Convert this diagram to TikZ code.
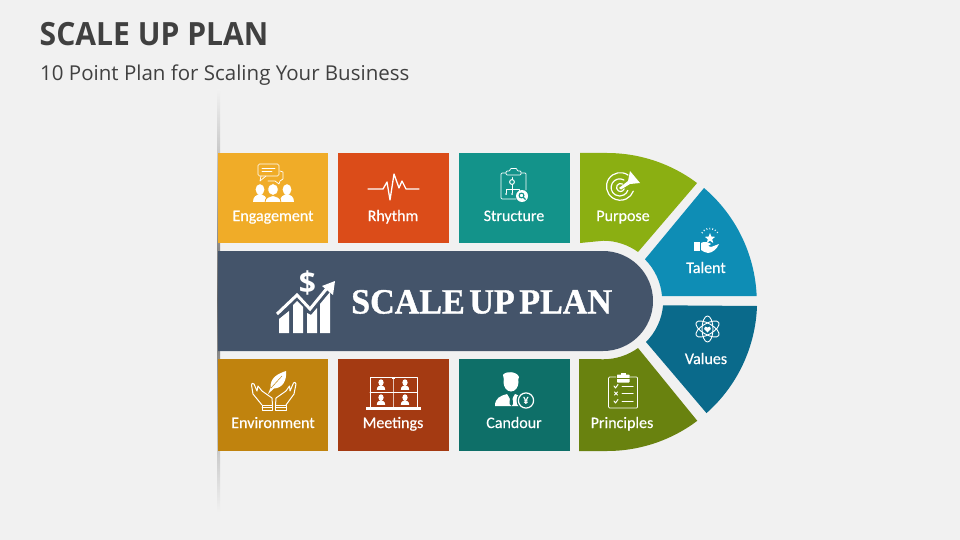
\documentclass[tikz,border=0pt]{standalone}
\usepackage{fontspec}
\setmainfont{Open Sans}
\newfontfamily\titlefont[FakeStretch=0.94]{Open Sans}
\newfontfamily\tilefont[FakeBold=0.4]{Carlito}
\newfontfamily\bandfont[FakeBold=1,FakeStretch=0.96]{Liberation Serif}
\definecolor{pagebg}{HTML}{F1F1F1}
\definecolor{inkgrey}{HTML}{404040}
\definecolor{bandblue}{HTML}{44546A}
\definecolor{yellowtile}{HTML}{F0AC28}
\definecolor{orangetile}{HTML}{DB4C19}
\definecolor{tealtile}{HTML}{13938A}
\definecolor{greentile}{HTML}{8BAF12}
\definecolor{bluetile}{HTML}{0E8DB5}
\definecolor{navytile}{HTML}{0A6A8B}
\definecolor{olivetile}{HTML}{69820F}
\definecolor{ochretile}{HTML}{C0830E}
\definecolor{rusttile}{HTML}{A43A12}
\definecolor{pinetile}{HTML}{0E6F68}
\tikzset{
  tile/.style={anchor=north west,inner sep=0pt,minimum width=#1,minimum height=90pt},
  tilelabel/.style={anchor=base,text=white,font=\tilefont\fontsize{16}{18}\selectfont,inner sep=0pt},
  iconline/.style={draw=white,line width=1pt,line join=round,line cap=round},
  iconthin/.style={draw=white,line width=0.7pt,line join=round,line cap=round},
}
% one head and shoulders, #1 = x, #2 = y of the chin, #3 = size
\newcommand{\bustfig}[3]{
  \fill[white] (#1,#2-#3*0.55) ellipse[x radius=#3*0.7,y radius=#3*0.85];
  \fill[white] (#1-#3*1.1,#2+#3*1.4) .. controls (#1-#3*1.1,#2+#3*0.5) and (#1-#3*0.6,#2+#3*0.4) .. (#1,#2+#3*0.1)
    .. controls (#1+#3*0.6,#2+#3*0.4) and (#1+#3*1.1,#2+#3*0.5) .. (#1+#3*1.1,#2+#3*1.4) -- cycle;
}
\begin{document}
\begin{tikzpicture}[x=1pt,y=-1pt]
  \useasboundingbox (0,0) rectangle (960,540);
  \fill[pagebg] (0,0) rectangle (960,540);
  % title
  \node[anchor=base west,inner sep=0pt,text=inkgrey,font=\titlefont\bfseries\fontsize{32}{36}\selectfont] (title) at (39.5,46) {SCALE UP PLAN};
  \node[anchor=base west,inner sep=0pt,text=inkgrey,font=\fontsize{20.5}{24}\selectfont] (subtitle) at (40,81) {10 Point Plan for Scaling Your Business};
  % wall line
  \shade[top color=pagebg,bottom color=black!60] (217,90) rectangle (220,300);
  \shade[top color=black!60,bottom color=pagebg] (217,300) rectangle (220,512);
  % square tiles
  \node[tile=110pt,fill=yellowtile] (engagement) at (218,153) {};
  \node[tile=111pt,fill=orangetile] (rhythm) at (338,153) {};
  \node[tile=111pt,fill=tealtile] (structure) at (459,153) {};
  \node[tile=110pt,minimum height=92pt,fill=ochretile] (environment) at (218,359) {};
  \node[tile=111pt,minimum height=92pt,fill=rusttile] (meetings) at (338,359) {};
  \node[tile=111pt,minimum height=92pt,fill=pinetile] (candour) at (459,359) {};
  % round tiles
  \fill[greentile] (580,153) -- (607,153) arc[start angle=-90,end angle=-53.1,radius=150] -- (638,252)
    arc[start angle=-54,end angle=-90,radius=59] -- (580,243) -- cycle;
  \fill[bluetile] (704,188) arc[start angle=-49.6,end angle=-2.3,radius=150] -- (662,296)
    arc[start angle=-4.9,end angle=-45,radius=59] -- cycle;
  \fill[navytile] (757,306) arc[start angle=2,end angle=48.5,radius=150] -- (646,342)
    arc[start angle=45,end angle=4.9,radius=59] -- cycle;
  \fill[olivetile] (579,451) -- (607,451) arc[start angle=90,end angle=53,radius=150] -- (638,348)
    arc[start angle=54,end angle=90,radius=59] -- (579,359) -- cycle;
  % centre band
  \fill[bandblue] (218,251) -- (603,251) arc[start angle=-90,end angle=90,radius=50] -- (218,351) -- cycle;
  \node[anchor=base west,inner sep=0pt,text=white,font=\bandfont\bfseries\fontsize{35.5}{40}\selectfont] (bandtext) at (351,313.5) {SCALE\hspace{-4pt} UP\hspace{-4pt} PLAN};
  % tile labels
  \node[tilelabel] (engagementtext) at (273,221) {Engagement};
  \node[tilelabel] (rhythmtext) at (393,221) {Rhythm};
  \node[tilelabel] (structuretext) at (514,221) {Structure};
  \node[tilelabel] (purposetext) at (623,221) {Purpose};
  \node[tilelabel] (talenttext) at (706,273) {Talent};
  \node[tilelabel] (valuestext) at (706,364) {Values};
  \node[tilelabel] (principlestext) at (622,428) {Principles};
  \node[tilelabel] (environmenttext) at (273,428) {Environment};
  \node[tilelabel] (meetingstext) at (393,428) {Meetings};
  \node[tilelabel] (candourtext) at (514,428) {Candour};
  % band icon
  \fill[white] (279,319) -- (289,311) -- (289,333) -- (279,333) -- cycle;
  \fill[white] (293,305) -- (297,301) -- (303,307) -- (303,333) -- (293,333) -- cycle;
  \fill[white] (307,313) -- (311,315) -- (317,308) -- (317,333) -- (307,333) -- cycle;
  \fill[white] (320,304) -- (330,292) -- (330,333) -- (320,333) -- cycle;
  \draw[white,line width=3pt] (277,314) -- (297,295) -- (310,309) -- (328,287);
  \fill[white] (335,281) -- (333,295) -- (322,286) -- cycle;
  \node[inner sep=0pt,text=white,font=\bfseries\fontsize{30}{32}\selectfont] (dollar) at (307.5,283) {\$};
  % engagement icon
  \draw[iconthin,rounded corners=1.5pt] (258,164) rectangle (279,176);
  \draw[iconthin] (261,176) -- (260,181) -- (266,176);
  \draw[iconthin] (262,168) -- (275,168) (262,171) -- (272,171);
  \draw[iconthin] (280,171) -- (283,172) -- (283,179) -- (280,181) -- (279,184) -- (275,181) -- (268,181);
  \bustfig{260}{193}{6.3}
  \bustfig{287}{193}{6.3}
  \draw[yellowtile,line width=0.8pt,fill=white] (273,189.5) ellipse[x radius=5.2,y radius=6];
  \fill[white,draw=yellowtile,line width=0.8pt] (265,202.5) .. controls (265,197) and (269,197) .. (273,195.5) .. controls (277,197) and (281,197) .. (281,202.5) -- cycle;
  % rhythm icon
  \draw[iconline,line width=1.3pt] (368,189) -- (383,189) -- (387,182) -- (390,200) -- (394,174) -- (399,188) -- (402,181) -- (406,189) -- (419,189);
  % structure icon
  \draw[iconthin,rounded corners=1pt] (506,173) -- (501,173) -- (501,199) -- (516,199);
  \draw[iconthin,rounded corners=1pt] (521,173) -- (526,173) -- (526,190);
  \draw[iconthin,rounded corners=1pt] (506,175) -- (506,171) -- (510,171) -- (510,168.5) -- (517,168.5) -- (517,171) -- (521,171) -- (521,175) -- cycle;
  \draw[iconthin,line width=1pt] (512,182) circle[radius=2.4];
  \draw[iconthin] (512,177.5) -- (512,179.5) (512,184.5) -- (512,189) (506,193) -- (506,189) -- (519,189) -- (519,191) (512,189) -- (512,193);
  \fill[white] (506,194) circle[radius=1] (512,194) circle[radius=1];
  \fill[white] (522,196) circle[radius=6];
  \draw[tealtile,line width=1.1pt] (521.5,195.5) circle[radius=2.4] (523.3,197.3) -- (525.5,199.5);
  % purpose icon
  \draw[iconline,line width=1.2pt] (628,175) arc[start angle=-56,end angle=-340,radius=13.8];
  \draw[iconline,line width=1.2pt] (624,180) arc[start angle=-60,end angle=-340,radius=8.6];
  \draw[iconline,line width=1.2pt] (622.5,184) arc[start angle=-60,end angle=-340,radius=4];
  \fill[white] (619,188) -- (628,181) -- (630,171) -- (640,183) -- (630,184) -- (621,189.5) -- cycle;
  % talent icon
  \fill[white] (694,242) rectangle (700,250.5);
  \fill[white] (701,243) .. controls (704,241) and (708,242) .. (711,244) -- (708,246) -- (711,247) -- (719,244)
    .. controls (717,249) and (712,253) .. (708,253) .. controls (705,253) and (703,251) .. (701,250) -- cycle;
  \fill[white] (710,233) -- (711.4,236.6) -- (715.2,236.8) -- (712.2,239.2) -- (713.2,242.9) -- (710,240.8) -- (706.8,242.9) -- (707.8,239.2) -- (704.8,236.8) -- (708.6,236.6) -- cycle;
  \draw[white,line width=1.6pt,dash pattern=on 0.8pt off 2.2pt] (702,233) arc[start angle=-150,end angle=-30,radius=9.2];
  % values icon
  \draw[iconthin,line width=0.9pt,rotate around={90:(707.5,329)}] (707.5,329) ellipse[x radius=13,y radius=5.5];
  \draw[iconthin,line width=0.9pt,rotate around={30:(707.5,329)}] (707.5,329) ellipse[x radius=13,y radius=5.5];
  \draw[iconthin,line width=0.9pt,rotate around={-30:(707.5,329)}] (707.5,329) ellipse[x radius=13,y radius=5.5];
  \fill[white] (707.5,332.5) -- (704.1,329) .. controls (703.3,326.5) and (706.5,325.5) .. (707.5,327.5) .. controls (708.5,325.5) and (711.7,326.5) .. (710.9,329) -- cycle;
  % principles icon
  \draw[iconthin,rounded corners=1pt] (616,377) -- (608.5,377) -- (608.5,408) -- (637.5,408) -- (637.5,377) -- (630,377);
  \fill[white,rounded corners=0.7pt] (617,374.5) rectangle (629.5,382.5);
  \fill[white] (620.5,372.5) rectangle (626,375);
  \draw[olivetile,line width=0.6pt] (617,378) -- (629.5,378);
  \draw[iconthin,line width=1pt] (622,386) -- (633,386) (622,393.5) -- (633,393.5) (622,401) -- (633,401);
  \draw[iconthin,line width=1pt] (614,386) -- (615.5,388) -- (618,384.5) (614.5,392) -- (617.5,395) (617.5,392) -- (614.5,395) (614,401) -- (615.5,403) -- (618,399.5);
  % environment icon
  \draw[iconthin,line width=1pt] (262,405) -- (253,394) -- (251.5,385) .. controls (251,383) and (253,383) .. (254,384) -- (257,391) -- (258,386) -- (262,391) -- (272,398) -- (272.5,405);
  \draw[iconthin,line width=1pt] (286,405) -- (294,394) -- (296,384) .. controls (296,382) and (294,382) .. (293.5,383) -- (290,391) -- (289.5,386) -- (286,391) -- (276,398) -- (275.5,405);
  \draw[iconthin,line width=1pt] (262,405) rectangle (272.5,410) (275.5,405) rectangle (286,410) (262,407.5) -- (272.5,407.5) (275.5,407.5) -- (286,407.5);
  \fill[white] (270.5,388) .. controls (270,378) and (277,374) .. (286,371) .. controls (287,380) and (283,388) .. (274,388.5) -- (268,394) -- cycle;
  \draw[ochretile,line width=0.5pt] (271,388) -- (282,376);
  % meetings icon
  \draw[iconthin,line width=1pt] (370,377) rectangle (417,407);
  \draw[white!70!rusttile,line width=1.2pt] (393.5,377) -- (393.5,407);
  \fill[white] (392,376.5) rectangle (395,379);
  \draw[iconthin,line width=1pt] (370,392) -- (417,392);
  \fill[white] (366,407) rectangle (421,410);
  \bustfig{381}{384.6}{3.8}
  \bustfig{405}{384.6}{3.8}
  \bustfig{381}{399.6}{3.8}
  \bustfig{405}{399.6}{3.8}
  % candour icon
  \fill[white] (511,382) ellipse[x radius=7.5,y radius=9.5];
  \fill[white] (503,375) .. controls (505,371) and (517,371) .. (519,377) -- (518,380) -- (504,380) -- cycle;
  \fill[white] (495,406) .. controls (495,398) and (500,396) .. (507,394) -- (510,399) -- (512,399) -- (515,394) .. controls (518,395) and (520,396) .. (523,398) -- (519,406) -- cycle;
  \fill[pinetile] (510,397) -- (512.5,397) -- (513,404) -- (511.5,406) -- (509.5,404) -- cycle;
  \fill[pinetile] (526,400.5) circle[radius=9.5];
  \draw[white,line width=1.2pt] (526,400.5) circle[radius=7.6];
  \node[inner sep=0pt,text=white,font=\bfseries\fontsize{10}{12}\selectfont] (yen) at (526,400.5) {¥};
\end{tikzpicture}
\end{document}
